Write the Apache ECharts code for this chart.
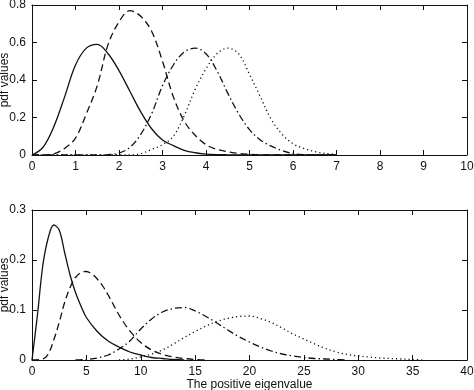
<!DOCTYPE html>
<html>
<head>
<meta charset="utf-8">
<script src="https://cdn.jsdelivr.net/npm/echarts@6/dist/echarts.min.js"></script>
<style>html,body{margin:0;padding:0;background:#fff;}#c{width:474px;height:390px;}</style>
</head>
<body>
<div id="c"></div>
<script>
// ---- Top panel data ----
const topX = [0,0.25,0.5,0.75,1,1.25,1.5,1.75,2,2.25,2.5,2.75,3,3.25,3.5,3.75,4,4.25,4.5,4.75,5,5.25,5.5,5.75,6,6.25,6.5,6.75,7];
const topSolid   = [0,0.04,0.15,0.31,0.48,0.57,0.59,0.54,0.45,0.34,0.23,0.14,0.08,0.05,0.025,0.012,0.005,0.002,0.001,0,0,0,0,0,0,0,0,0,0];
const topDashed  = [0,0,0.006,0.035,0.09,0.22,0.37,0.59,0.71,0.77,0.74,0.66,0.50,0.31,0.18,0.105,0.055,0.03,0.018,0.008,0.004,0.001,0,0,0,0,0,0,0];
const topDashDot = [0,0,0,0,0,0,0,0.002,0.01,0.04,0.11,0.22,0.37,0.48,0.55,0.57,0.54,0.45,0.33,0.22,0.135,0.08,0.047,0.024,0.008,0.002,0,0,0];
const topDotted  = [0,0,0,0,0,0,0,0,0,0,0.007,0.03,0.055,0.10,0.21,0.35,0.46,0.54,0.57,0.54,0.43,0.31,0.19,0.11,0.06,0.035,0.018,0.008,0.003];
const topXTicks = [0,1,2,3,4,5,6,7,8,9,10];
const topYTicks = [0,0.2,0.4,0.6,0.8];

// ---- Bottom panel data ----
const botSolidX = [0,0.5,1,1.5,2,2.5,3,3.5,4,4.5,5,6,7,8,9,10,11,12,13,14];
const botSolidY = [0,0.09,0.19,0.245,0.27,0.26,0.215,0.17,0.135,0.108,0.085,0.057,0.038,0.026,0.016,0.01,0.005,0.003,0.001,0];
const botDashedX = [0,1,1.5,2,2.5,3,3.5,4,4.5,5,5.5,6,6.5,7,7.5,8,8.5,9,10,11,12,13,14,15,16];
const botDashedY = [0,0.002,0.012,0.04,0.075,0.115,0.145,0.165,0.175,0.177,0.172,0.162,0.148,0.13,0.11,0.09,0.073,0.058,0.035,0.02,0.011,0.006,0.003,0.001,0];
const botDashDotX = [4,5,6,7,8,9,10,11,12,13,14,15,16,17,18,19,20,21,22,23,24,25,26,27,28,29];
const botDashDotY = [0,0.001,0.004,0.01,0.022,0.038,0.062,0.082,0.096,0.103,0.105,0.098,0.087,0.074,0.06,0.047,0.036,0.026,0.018,0.012,0.008,0.005,0.003,0.002,0.001,0];
const botDottedX = [8,9,10,11,12,13,14,15,16,17,18,19,20,21,22,23,24,25,26,27,28,29,30,31,32,33,34,35,36];
const botDottedY = [0,0.002,0.006,0.012,0.02,0.032,0.045,0.057,0.068,0.077,0.083,0.087,0.088,0.083,0.075,0.064,0.052,0.042,0.032,0.023,0.016,0.011,0.008,0.006,0.004,0.003,0.002,0.001,0];
const botXTicks = [0,5,10,15,20,25,30,35,40];
const botYTicks = [0,0.1,0.2,0.3];

const yName = 'pdf values';
const xName = 'The positive eigenvalue';

const INK = '#111';
const FONT = 'Liberation Sans, Arial, sans-serif';
const zip = (xs, ys) => xs.map((x, i) => [x, ys[i]]);

function axisPair(gridIndex, min, max, interval, isX, mainPos, name) {
  const base = {
    type: 'value', gridIndex, min, max, interval,
    axisLine: {show: true, onZero: false, lineStyle: {color: INK, width: 1}},
    axisTick: {show: true, inside: true, length: 5, lineStyle: {color: INK}},
    splitLine: {show: false}
  };
  const main = Object.assign({}, base, {
    position: mainPos,
    axisLabel: {show: true, color: INK, fontSize: 12, fontFamily: FONT, margin: 6,
      formatter: v => String(+v.toFixed(2))}
  });
  if (name) {
    Object.assign(main, {
      name, nameLocation: 'middle',
      nameGap: isX ? 19 : 21,
      nameMoveOverlap: false,
      nameTextStyle: {color: INK, fontSize: 12, fontFamily: FONT}
    });
  }
  const other = Object.assign({}, base, {
    position: isX ? 'top' : 'right',
    axisLabel: {show: false}
  });
  return [main, other];
}

const styles = [
  {type: 'solid'},
  {type: [7, 4]},
  {type: [7, 3, 1.5, 3]},
  {type: [1.2, 3]}
];

function mkSeries(data, xi, yi, s) {
  return {
    type: 'line', xAxisIndex: xi, yAxisIndex: yi, data,
    smooth: 0.35, showSymbol: false, symbol: 'none',
    lineStyle: {color: INK, width: 1.3, type: s.type},
    silent: true, animation: false
  };
}

const tx = axisPair(0, topXTicks[0], topXTicks[topXTicks.length-1], 1, true, 'bottom', null);
const ty = axisPair(0, topYTicks[0], topYTicks[topYTicks.length-1], 0.2, false, 'left', yName);
const bx = axisPair(1, botXTicks[0], botXTicks[botXTicks.length-1], 5, true, 'bottom', xName);
const by = axisPair(1, botYTicks[0], botYTicks[botYTicks.length-1], 0.1, false, 'left', yName);

const option = {
  animation: false,
  backgroundColor: '#fff',
  grid: [
    {left: 32, right: 7, top: 5, height: 150, containLabel: false, outerBoundsMode: 'none'},
    {left: 32, right: 7, top: 210, height: 150, containLabel: false, outerBoundsMode: 'none'}
  ],
  xAxis: [tx[0], tx[1], bx[0], bx[1]],
  yAxis: [ty[0], ty[1], by[0], by[1]],
  series: [
    mkSeries(zip(topX, topSolid), 0, 0, styles[0]),
    mkSeries(zip(topX, topDashed), 0, 0, styles[1]),
    mkSeries(zip(topX, topDashDot), 0, 0, styles[2]),
    mkSeries(zip(topX, topDotted), 0, 0, styles[3]),
    mkSeries(zip(botSolidX, botSolidY), 2, 2, styles[0]),
    mkSeries(zip(botDashedX, botDashedY), 2, 2, styles[1]),
    mkSeries(zip(botDashDotX, botDashDotY), 2, 2, styles[2]),
    mkSeries(zip(botDottedX, botDottedY), 2, 2, styles[3])
  ]
};

echarts.init(document.getElementById('c'), null, {renderer: 'canvas'}).setOption(option);
</script>
</body>
</html>
